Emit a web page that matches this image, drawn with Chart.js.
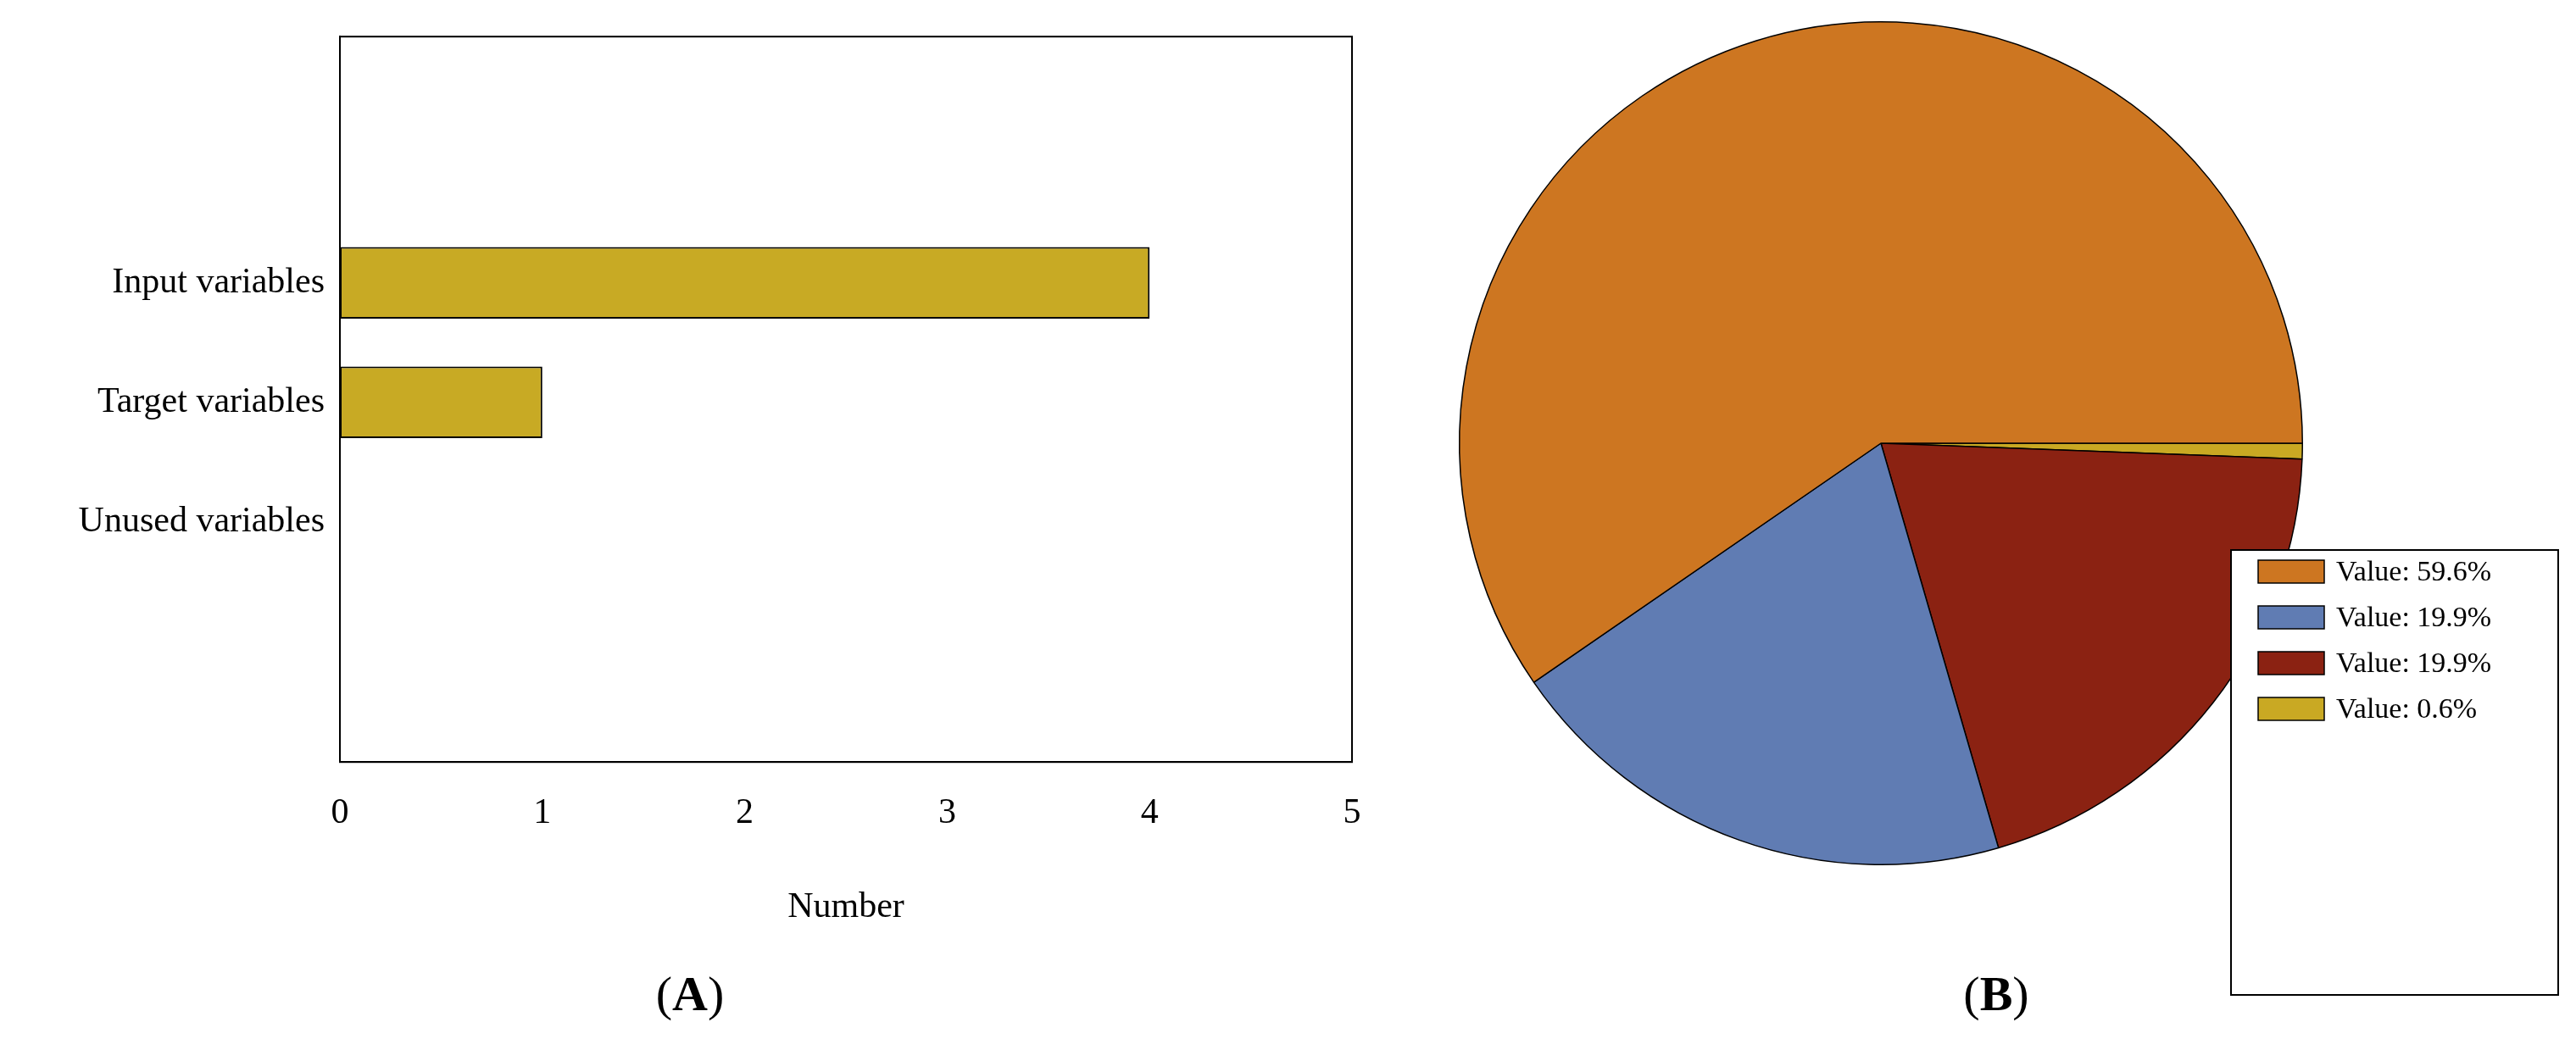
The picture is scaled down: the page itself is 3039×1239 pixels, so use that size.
<!DOCTYPE html>
<html><head><meta charset="utf-8">
<script src="https://cdn.jsdelivr.net/npm/chart.js@4/dist/chart.umd.min.js"></script>
<style>
body{margin:0;background:#fff;width:3039px;height:1239px;position:relative;overflow:hidden;font-family:"Liberation Serif",serif}
#w1{position:absolute;left:0;top:0;width:1700px;height:1100px}
#w2{position:absolute;left:1700px;top:0;width:1339px;height:1239px}
.lab{position:absolute;font-size:58px;transform:translate(-50%,-50%)}
</style></head><body>
<div id="w1"><canvas id="c1"></canvas></div>
<div id="w2"><canvas id="c2"></canvas></div>
<div class="lab" style="left:814px;top:1172px">(<b>A</b>)</div>
<div class="lab" style="left:2355px;top:1172px">(<b>B</b>)</div>
<script>
const categories = ["Input variables","Target variables","Unused variables"];
const counts = [4, 1, 0];
const xTicks = [0,1,2,3,4,5];
const pieLabels = ["Value: 0.6%","Value: 19.9%","Value: 19.9%","Value: 59.6%"];
const pieValues = [0.6, 19.9, 19.9, 59.6];
const pieColors = ["#C9A923","#8B2212","#607CB3","#CD7621"];
const legendOrder = [3,2,1,0];
const F = "'Liberation Serif', serif";

const frame = {id:'frame', afterDraw(c){const a=c.chartArea,x=c.ctx;x.save();x.strokeStyle='#000';x.lineWidth=2;x.strokeRect(a.left,a.top,a.right-a.left,a.bottom-a.top);x.restore();}};
new Chart(document.getElementById('c1'),{
 type:'bar',
 data:{datasets:[{data:counts.map((v,i)=>({x:v,y:i})),backgroundColor:'#C8AA24',borderColor:'#000',borderWidth:2,borderSkipped:false,barPercentage:0.6,categoryPercentage:1}]},
 options:{indexAxis:'y',responsive:true,maintainAspectRatio:false,animation:false,
  layout:{padding:{top:35,right:105,left:0,bottom:0}},
  plugins:{legend:{display:false},tooltip:{enabled:false}},
  scales:{
   y:{type:'linear',reverse:true,min:-1.05,max:3,grid:{display:false,drawTicks:false},border:{color:'#000',width:2},
      afterFit(s){s.width=401;},
      afterBuildTicks(s){s.ticks=categories.map((_,i)=>({value:i}));},
      ticks:{padding:18,color:'#000',font:{family:F,size:42},callback:v=>categories[v]||''}},
   x:{type:'linear',min:0,max:5,grid:{display:false,drawTicks:true,tickLength:16,color:'#000',tickWidth:2},border:{color:'#000',width:2},
      ticks:{stepSize:1,padding:20,color:'#000',font:{family:F,size:42},callback:v=>xTicks.includes(v)?String(v):''},
      title:{display:true,text:'Number',color:'#000',font:{family:F,size:42},padding:{top:40}}}
  }},
 plugins:[frame]
});

const legendPlug={id:'lg',afterDraw(c){const x=c.ctx;x.save();
 const L=932,T=649,W=386,H=525;x.fillStyle='#fff';x.fillRect(L,T,W,H);x.strokeStyle='#000';x.lineWidth=2;x.strokeRect(L,T,W,H);
 x.font="34px "+F;x.textBaseline='middle';
 legendOrder.forEach((k,i)=>{const y=674+i*54;x.fillStyle=pieColors[k];x.fillRect(964,y-13,78,27);x.strokeStyle='#000';x.lineWidth=1.5;x.strokeRect(964,y-13,78,27);x.fillStyle='#000';x.fillText(pieLabels[k],1056,y+2);});
 x.restore();}};
new Chart(document.getElementById('c2'),{
 type:'pie',
 data:{labels:pieLabels,datasets:[{data:pieValues,backgroundColor:pieColors,borderColor:'#000',borderWidth:1.5}]},
 options:{responsive:true,maintainAspectRatio:false,animation:false,rotation:90,
  layout:{padding:{left:21,top:25,right:322,bottom:218}},
  plugins:{legend:{display:false},tooltip:{enabled:false}}},
 plugins:[legendPlug]
});
</script></body></html>
